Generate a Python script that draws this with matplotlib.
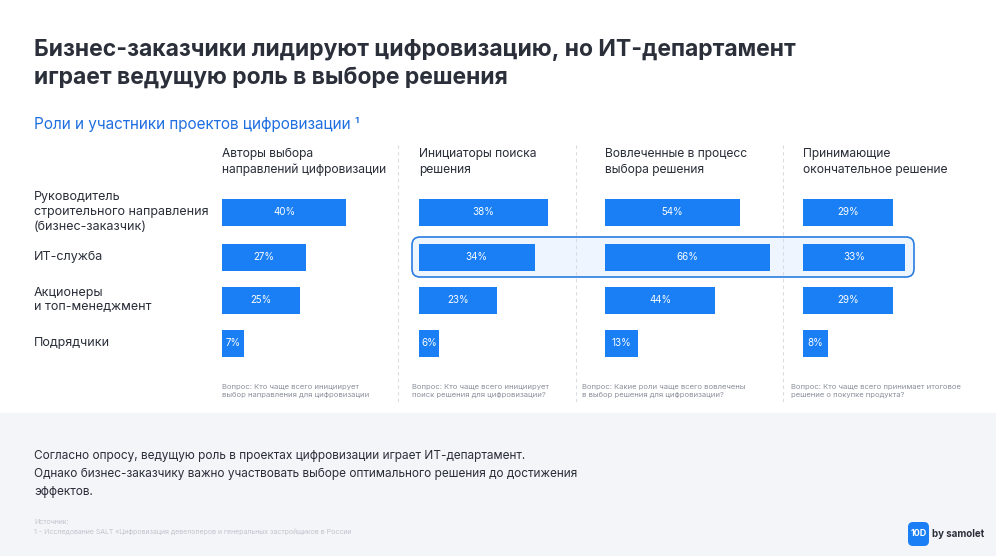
import matplotlib.pyplot as plt
from matplotlib.patches import FancyBboxPatch, Rectangle

W, H = 996, 556

roles = ["Руководитель\nстроительного направления\n(бизнес-заказчик)", "ИТ-служба",
         "Акционеры\nи топ-менеджмент", "Подрядчики"]
panels = ["Авторы выбора\nнаправлений цифровизации", "Инициаторы поиска\nрешения",
          "Вовлеченные в процесс\nвыбора решения", "Принимающие\nокончательное решение"]
authors = [40, 27, 25, 7]
initiators = [38, 34, 23, 6]
involved = [54, 66, 44, 13]
deciders = [29, 33, 29, 8]
questions = ["Вопрос: Кто чаще всего инициирует\nвыбор направления для цифровизации",
             "Вопрос: Кто чаще всего инициирует\nпоиск решения для цифровизации?",
             "Вопрос: Какие роли чаще всего вовлечены\nв выбор решения для цифровизации?",
             "Вопрос: Кто чаще всего принимает итоговое\nрешение о покупке продукта?"]

plt.rcParams['font.family'] = 'Inter'
fig = plt.figure(figsize=(W / 100, H / 100), dpi=100)
bg = fig.add_axes([0, 0, 1, 1])
bg.set_xlim(0, W)
bg.set_ylim(H, 0)
bg.axis('off')

dark = '#2b2f3a'
blue = '#1a7ff5'
grey = '#8a8f99'

bg.add_patch(Rectangle((0, 413), W, H - 413, color='#f4f5f9', zorder=0))
bg.text(34, 64, "Бизнес-заказчики лидируют цифровизацию, но ИТ-департамент\nиграет ведущую роль в выборе решения",
        fontsize=16.5, fontweight='bold', color=dark, va='center', linespacing=1.35)
bg.text(34, 125, "Роли и участники проектов цифровизации ¹", fontsize=11, color='#1f6fe0', va='center')

# highlight box around IT row
bg.add_patch(FancyBboxPatch((412, 237), 502, 40, boxstyle="round,pad=0,rounding_size=8",
                            facecolor='#eef5fe', edgecolor='#2a7de0', lw=1.2, zorder=1))

for x in [398, 576, 783]:
    bg.plot([x, x], [145, 405], ls=(0, (3, 3)), color='#d8dbe0', lw=0.8, zorder=1)

row_y = [212, 257, 300, 343]
for y, r in zip(row_y, roles):
    bg.text(34, y, r, fontsize=9, color=dark, va='center', linespacing=1.3)

starts = [222, 419, 605, 803]
q_x = [222, 412, 582, 791]
scales = [3.1, 3.4, 2.5, 3.1]
series = [authors, initiators, involved, deciders]
for x0, qx, sc, vals, title, q in zip(starts, q_x, scales, series, panels, questions):
    bg.text(x0, 162, title, fontsize=8.7, color=dark, va='center', linespacing=1.4)
    bg.text(qx, 391, q, fontsize=5.5, color=grey, va='center', linespacing=1.5)
    ax = fig.add_axes([x0 / W, 0, 100 * sc / W, 1])
    ax.set_xlim(0, 100)
    ax.set_ylim(H, 0)
    ax.axis('off')
    ax.barh(row_y, vals, height=27, color=blue, zorder=3)
    for y, v in zip(row_y, vals):
        ax.text(v / 2, y, f"{v}%", fontsize=7, color='white', va='center', ha='center', zorder=4)

bg.text(34, 474, "Согласно опросу, ведущую роль в проектах цифровизации играет ИТ-департамент.\n"
        "Однако бизнес-заказчику важно участвовать выборе оптимального решения до достижения\nэффектов.",
        fontsize=8.5, color=dark, va='center', linespacing=1.7)
bg.text(34, 527, "Источник:\n1 - Исследование SALT «Цифровизация девелоперов и генеральных застройщиков в России",
        fontsize=5, color='#c0c4cc', va='center', linespacing=1.6)
bg.add_patch(FancyBboxPatch((908, 522), 21, 24, boxstyle="round,pad=0,rounding_size=5",
                            facecolor=blue, edgecolor='none'))
bg.text(918.5, 534, "10D", fontsize=6.5, fontweight='bold', color='white', ha='center', va='center')
bg.text(932, 534, "by samolet", fontsize=7, fontweight='bold', color=dark, va='center')

fig.savefig('out.png', dpi=100)
